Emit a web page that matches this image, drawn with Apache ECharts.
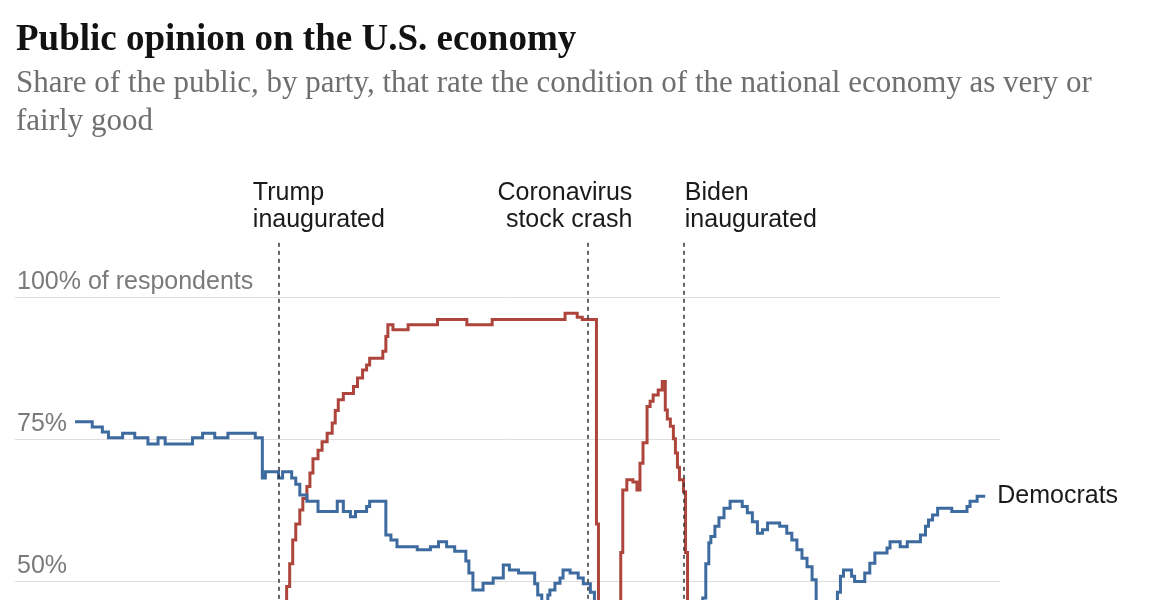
<!DOCTYPE html>
<html>
<head>
<meta charset="utf-8">
<title>Public opinion on the U.S. economy</title>
<script src="https://cdn.jsdelivr.net/npm/echarts@6/dist/echarts.min.js"></script>
<style>
  html, body { margin: 0; padding: 0; background: #fff; }
  #chart { width: 1156px; height: 600px; }
</style>
</head>
<body>
<div id="chart"></div>
<script>
// survey dates as decimal years, share rating the economy very/fairly good
var demYears = [2015.04, 2015.21, 2015.31, 2015.37, 2015.51, 2015.63, 2015.76, 2015.86, 2015.93, 2016.20,
  2016.30, 2016.42, 2016.55, 2016.82, 2016.89, 2016.92, 2017.05, 2017.09, 2017.18, 2017.22,
  2017.26, 2017.33, 2017.44, 2017.63, 2017.69, 2017.76, 2017.81, 2017.92, 2017.95, 2018.11,
  2018.16, 2018.22, 2018.42, 2018.55, 2018.63, 2018.71, 2018.79, 2018.90, 2018.93, 2018.97,
  2019.07, 2019.17, 2019.27, 2019.33, 2019.42, 2019.58, 2019.61, 2019.65, 2019.71,
  2019.73, 2019.78, 2019.83, 2019.86, 2019.93, 2020.01, 2020.06, 2020.13, 2020.17, 2020.20, 2020.23, 2020.28,
  2020.72, 2021.16, 2021.21, 2021.24, 2021.27, 2021.30, 2021.32, 2021.36, 2021.40, 2021.45,
  2021.51, 2021.63, 2021.68, 2021.73, 2021.78, 2021.83, 2021.88, 2022.00, 2022.07, 2022.12,
  2022.17, 2022.22, 2022.27, 2022.32, 2022.36, 2022.40, 2022.46, 2022.53, 2022.57, 2022.60,
  2022.63, 2022.71, 2022.74, 2022.84, 2022.89, 2022.94, 2023.06, 2023.09, 2023.19, 2023.26,
  2023.39, 2023.44, 2023.47, 2023.51, 2023.56, 2023.70, 2023.85, 2023.88, 2023.95, 2024.03];
var demValues = [78.0, 77.1, 76.2, 75.2, 76.0, 75.2, 74.1, 75.2, 74.1, 75.2,
  76.0, 75.2, 76.0, 75.2, 68.1, 69.2, 68.1, 69.2, 68.1, 67.0,
  65.1, 64.0, 62.2, 64.0, 62.2, 61.3, 62.2, 63.1, 64.0, 58.1,
  57.2, 56.0, 55.5, 56.0, 56.9, 56.0, 55.2, 53.5, 51.4, 48.4,
  49.6, 50.5, 52.8, 51.9, 51.4, 49.5, 47.5, 46.0, 47.5,
  48.4, 49.6, 50.5, 51.9, 51.4, 50.5, 49.5, 48.0, 46.0, 42.0, 36.0, 30.0,
  28.0, 33.0, 40.0, 47.0, 53.0, 56.7, 57.8, 59.6, 61.1, 62.8,
  64.0, 63.1, 62.0, 60.4, 58.4, 59.0, 60.2, 59.6, 58.4, 57.2,
  55.5, 54.0, 52.5, 50.2, 46.0, 38.0, 35.0, 42.0, 48.0, 50.8,
  51.9, 50.8, 49.9, 51.4, 53.1, 54.9, 55.8, 56.9, 56.0, 56.9,
  58.1, 59.6, 60.7, 61.6, 62.8, 62.2, 63.1, 64.0, 64.9, 64.9];

var repYears = [2015.04, 2015.78, 2016.47, 2016.97, 2017.05, 2017.09, 2017.11, 2017.13, 2017.16, 2017.19,
  2017.22, 2017.26, 2017.29, 2017.33, 2017.36, 2017.39, 2017.44, 2017.48, 2017.53, 2017.58,
  2017.61, 2017.64, 2017.69, 2017.79, 2017.83, 2017.88, 2017.92, 2017.95, 2018.08, 2018.11,
  2018.13, 2018.18, 2018.33, 2018.62, 2018.91, 2019.16, 2019.88, 2020.00, 2020.05, 2020.19, 2020.21,
  2020.25, 2020.29, 2020.37, 2020.41, 2020.43, 2020.45, 2020.49, 2020.55, 2020.59, 2020.62,
  2020.65, 2020.69, 2020.72, 2020.75, 2020.80, 2020.84, 2020.87, 2020.89, 2020.92, 2020.95,
  2020.97, 2020.99, 2021.01, 2021.05, 2021.07, 2021.09, 2021.12, 2021.71, 2022.70, 2024.03];
var repValues = [16, 14, 18, 22, 30, 40, 46, 49, 53, 57.2,
  60, 62.5, 64.5, 66.6, 69, 71.5, 73, 74.5, 76, 77.8,
  80, 81.9, 83, 84.2, 85.7, 87.1, 88, 89.2, 90.4, 93,
  95.1, 94.2, 95.1, 96.0, 95.1, 96.0, 97.1, 96.4, 96.0, 60, 45,
  25, 15, 15, 40, 55, 66, 67.8, 67.4, 66, 70.7,
  74.3, 80.7, 81.6, 82.7, 83.6, 85.1, 80.1, 78.5, 77.2, 75,
  72.5, 70, 67.8, 65.7, 55, 35, 20, 15, 12, 18];

var eventNames = ['Trump\ninaugurated', 'Coronavirus\nstock crash', 'Biden\ninaugurated'];
var eventYears = [2017.053, 2020.10, 2021.053];
var yTicks = [50, 75, 100];

// annotation layout, kept apart from the data
var eventAlign = ['left', 'right', 'left'];
var eventDx = [-26, 45, 1];

var SANS = '"Liberation Sans", Arial, sans-serif';
var SERIF = '"Liberation Serif", "Times New Roman", serif';

function zip(xs, ys) {
  var out = [];
  for (var i = 0; i < xs.length; i++) out.push([xs[i], ys[i]]);
  return out;
}

var chart = echarts.init(document.getElementById('chart'), null, { renderer: 'canvas' });

var eventLines = [];
for (var i = 0; i < eventYears.length; i++) {
  eventLines.push([{ coord: [eventYears[i], 109.5] }, { coord: [eventYears[i], 0] }]);
}

var option = {
  animation: false,
  backgroundColor: '#fff',
  title: {
    left: 11,
    top: 17,
    text: 'Public opinion on the U.S. economy',
    textStyle: { fontFamily: SERIF, fontWeight: 'bold', fontSize: 37, color: '#121212' },
    subtext: 'Share of the public, by party, that rate the condition of the national economy as very or\nfairly good',
    subtextStyle: { fontFamily: SERIF, fontSize: 31, color: '#6f6f6f', lineHeight: 38 },
    itemGap: 6
  },
  grid: { left: 15, right: 156, top: 240, height: 625, outerBoundsMode: 'none' },
  xAxis: {
    type: 'value',
    min: 2014.447,
    max: 2024.176,
    show: false
  },
  yAxis: {
    type: 'value',
    min: 0,
    max: 110,
    interval: 25,
    axisLine: { show: false },
    axisTick: { show: false },
    splitLine: {
      show: true,
      showMaxLine: false,
      showMinLine: false,
      lineStyle: { color: '#dedede', width: 1 }
    },
    axisLabel: {
      inside: true,
      margin: 2,
      verticalAlign: 'bottom',
      padding: [0, 0, 2, 0],
      fontFamily: SANS,
      fontSize: 25,
      color: '#7a7a7a',
      formatter: function (v) {
        if (yTicks.indexOf(v) < 0) return '';
        return v === 100 ? '100% of respondents' : v + '%';
      }
    }
  },
  series: [
    {
      name: 'events',
      type: 'line',
      data: [],
      silent: true,
      z: 1,
      markLine: {
        silent: true,
        symbol: ['none', 'none'],
        label: { show: false },
        lineStyle: { color: '#333', width: 1.5, type: [4, 4] },
        data: eventLines
      }
    },
    {
      name: 'Republicans',
      type: 'line',
      step: 'end',
      showSymbol: false,
      silent: true,
      z: 3,
      lineStyle: { color: '#ad453c', width: 3, join: 'miter' },
      data: zip(repYears, repValues)
    },
    {
      name: 'Democrats',
      type: 'line',
      step: 'end',
      showSymbol: false,
      silent: true,
      z: 4,
      lineStyle: { color: '#3d6a9f', width: 3, join: 'miter' },
      endLabel: {
        show: true,
        distance: 12,
        formatter: 'Democrats',
        fontFamily: SANS,
        fontSize: 25,
        color: '#1a1a1a'
      },
      data: zip(demYears, demValues)
    }
  ]
};

chart.setOption(option);

// event annotations placed from the data coordinates of each event line
var notes = [];
for (var j = 0; j < eventYears.length; j++) {
  var p = chart.convertToPixel({ gridIndex: 0 }, [eventYears[j], 109.5]);
  notes.push({
    type: 'text',
    silent: true,
    z: 10,
    x: p[0] + eventDx[j],
    y: p[1] - 63,
    style: {
      text: eventNames[j],
      font: '25px ' + SANS,
      fill: '#1a1a1a',
      align: eventAlign[j],
      verticalAlign: 'top',
      lineHeight: 27
    }
  });
}
chart.setOption({ graphic: notes });
</script>
</body>
</html>
